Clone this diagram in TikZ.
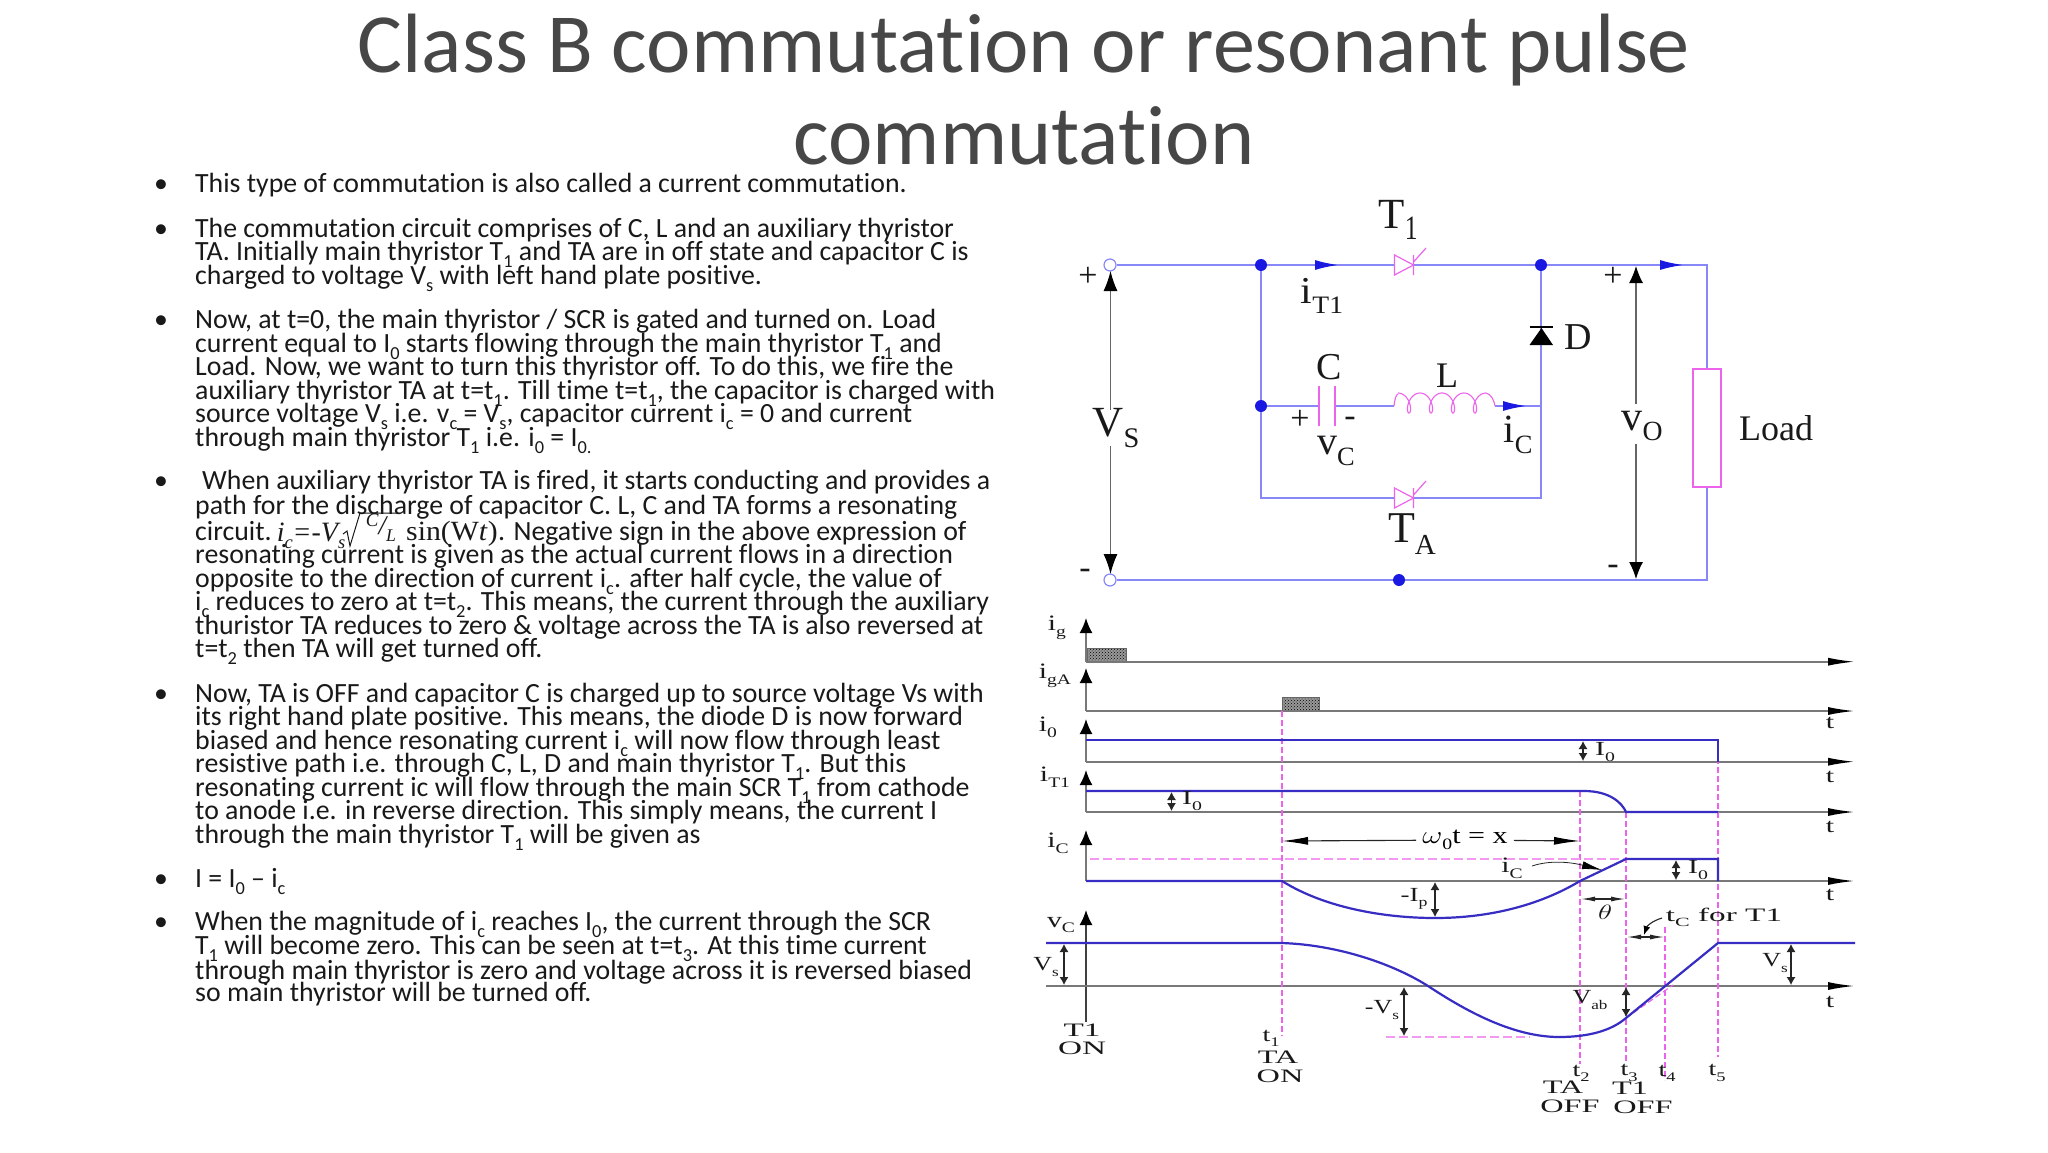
\documentclass[tikz,border=0pt]{standalone}
\usepackage{fontspec}
\usepackage{graphicx}
\usetikzlibrary{arrows.meta,patterns}
\setmainfont{Carlito}[Ligatures=NoCommon]
\newfontfamily\tmr{Liberation Serif}
\definecolor{wire}{RGB}{135,135,248}
\definecolor{dotb}{RGB}{25,25,225}
\definecolor{wave}{RGB}{55,45,195}
\definecolor{axisg}{RGB}{120,120,120}
\definecolor{magn}{RGB}{235,100,235}
\definecolor{txtk}{RGB}{25,25,25}
\newcounter{nn}
\newcommand\sbb[1]{\raisebox{-0.26em}{\scalebox{0.66}{#1}}}
\newcommand\bl[3]{\stepcounter{nn}\node[bodytxt,name=b\arabic{nn}] at (#1,#2) {#3};}
\newcommand\bul[1]{\stepcounter{nn}\node[bodytxt,anchor=base,name=b\arabic{nn}] at (161,#1) {•};}
% label: x, y, size, x-stretch, text
\newcommand\lab[5]{\stepcounter{nn}\node[serifl,name=s\arabic{nn}] at (#1,#2) {\fontsize{#3}{#3}\selectfont\tmr\scalebox{#4}[1]{#5}};}
\newcommand\jdot[3]{\node[jdotst,name=#1] at (#2,#3) {};}
\newcommand\dimv[3]{\stepcounter{nn}\coordinate (dv\arabic{nn}a) at (#1,#2);\coordinate (dv\arabic{nn}b) at (#1,#3);\draw[dimst] (dv\arabic{nn}a) -- (dv\arabic{nn}b);}
\newcommand\dimh[3]{\stepcounter{nn}\coordinate (dh\arabic{nn}a) at (#2,#1);\coordinate (dh\arabic{nn}b) at (#3,#1);\draw[dimhst] (dh\arabic{nn}a) -- (dh\arabic{nn}b);}
\newcommand\axis[3]{\stepcounter{nn}\coordinate (ax\arabic{nn}o) at (1086,#1);\coordinate (ax\arabic{nn}t) at (1086,#2);\coordinate (ax\arabic{nn}e) at (1855,#1);
 \draw[axvst] (ax\arabic{nn}o) -- (ax\arabic{nn}t);\draw[axst] (ax\arabic{nn}o) -- (ax\arabic{nn}e);}
\newcommand\vdsh[3]{\stepcounter{nn}\coordinate (vd\arabic{nn}a) at (#1,#2);\coordinate (vd\arabic{nn}b) at (#1,#3);\draw[dashst] (vd\arabic{nn}a) -- (vd\arabic{nn}b);}
\newcommand\thy[2]{\draw[magn,line width=1.2pt,fill=white] (#1-9.5,#2-10) -- (#1+9.5,#2) -- (#1-9.5,#2+10) -- cycle;
 \draw[magn,line width=1.2pt] (#1+9.5,#2-10) -- (#1+9.5,#2+10) (#1+9.5,#2-3) -- (#1+22,#2-17);}
\tikzset{x=1pt,y=-1pt,
 bodytxt/.style={anchor=base west,inner sep=0pt,font=\fontsize{27.8}{27.8}\selectfont,text=txtk},
 titletxt/.style={anchor=base,inner sep=0pt,font=\fontsize{84.2}{84.2}\selectfont,text=black!72},
 serifl/.style={inner sep=0pt,text=txtk},
 jdotst/.style={circle,fill=dotb,minimum size=12pt,inner sep=0pt},
 termst/.style={circle,draw=wire,fill=white,line width=1.2pt,minimum size=12pt,inner sep=0pt},
 wirest/.style={wire,line width=2.3pt},
 wavest/.style={wave,line width=2.2pt},
 axst/.style={axisg,line width=1.8pt,-{Latex[length=27pt,width=8pt,black]}},
 axvst/.style={axisg,line width=1.8pt,-{Latex[length=15pt,width=13pt,black]}},
 dimst/.style={black!85,line width=1.1pt,{Latex[length=8pt,width=9pt]}-{Latex[length=8pt,width=9pt]}},
 dimhst/.style={black!85,line width=1.1pt,{Latex[length=14pt,width=5pt]}-{Latex[length=14pt,width=5pt]}},
 dashst/.style={magn,line width=1.1pt,dash pattern=on 6pt off 3pt},
 hdashst/.style={magn!65,line width=1.2pt,dash pattern=on 9pt off 4pt},
 wtip/.style={dotb,line width=2.3pt,-{Latex[length=24pt,width=10pt]}},
 pulsest/.style={preaction={fill=black!40},pattern=crosshatch dots,pattern color=black,draw=black!60,line width=0.5pt}}
\begin{document}
\begin{tikzpicture}
\useasboundingbox[fill=white] (0,0) rectangle (2048,1152);
% Title
\node[titletxt,name=title1] at (1024,72) {Class B commutation or resonant pulse};
\node[titletxt,name=title2] at (1024,164) {commutation};
% Body text
\bul{192.6}\bl{195}{192.6}{This type of commutation is also called a current commutation.}
\bul{237}\bl{195}{237}{The commutation circuit comprises of C, L and an auxiliary thyristor}
\bl{195}{260.5}{TA. Initially main thyristor T\sbb{1} and TA are in off state and capacitor C is}
\bl{195}{284}{charged to voltage V\sbb{s} with left hand plate positive.}
\bul{328.5}\bl{195}{328.5}{Now, at t=0, the main thyristor / SCR is gated and turned on. Load}
\bl{195}{352}{current equal to I\sbb{0} starts flowing through the main thyristor T\sbb{1} and}
\bl{195}{375.5}{Load. Now, we want to turn this thyristor off. To do this, we fire the}
\bl{195}{399}{auxiliary thyristor TA at t=t\sbb{1}. Till time t=t\sbb{1}, the capacitor is charged with}
\bl{195}{422.5}{source voltage V\sbb{s} i.e. v\sbb{c} = V\sbb{s}, capacitor current i\sbb{c} = 0 and current}
\bl{195}{446}{through main thyristor T\sbb{1} i.e. i\sbb{0} = I\sbb{0.}}
\bul{489}\bl{202}{489}{When auxiliary thyristor TA is fired, it starts conducting and provides a}
\bl{195}{514}{path for the discharge of capacitor C. L, C and TA forms a resonating}
\bl{195}{540}{circuit.}
\lab{311}{536}{28}{1}{\itshape i\sbb{c}=-V\sbb{s}}
\lab{381}{528}{27}{1}{\itshape \raisebox{0.3em}{\scalebox{0.7}{C}}/\sbb{L}}
\stepcounter{nn}\node[bodytxt,name=b\arabic{nn}] at (406,540) {\tmr\scalebox{1.07}[1]{sin(W\textit{t})}};
\bl{498}{540}{. Negative sign in the above expression of}
\coordinate (rad0) at (343,534);\coordinate (rad1) at (347,531);\coordinate (rad2) at (350,546);\coordinate (rad3) at (360,513);\coordinate (rad4) at (398,513);
\draw[txtk,line width=1pt] (rad0) -- (rad1) -- (rad2) -- (rad3) -- (rad4);
\bl{195}{563.5}{resonating current is given as the actual current flows in a direction}
\bl{195}{587}{opposite to the direction of current i\sbb{c}. after half cycle, the value of}
\bl{195}{610.5}{i\sbb{c} reduces to zero at t=t\sbb{2}. This means, the current through the auxiliary}
\bl{195}{634}{thuristor TA reduces to zero \& voltage across the TA is also reversed at}
\bl{195}{657.5}{t=t\sbb{2} then TA will get turned off.}
\bul{702}\bl{195}{702}{Now, TA is OFF and capacitor C is charged up to source voltage Vs with}
\bl{195}{725.5}{its right hand plate positive. This means, the diode D is now forward}
\bl{195}{749}{biased and hence resonating current i\sbb{c} will now flow through least}
\bl{195}{772.5}{resistive path i.e. through C, L, D and main thyristor T\sbb{1}. But this}
\bl{195}{796}{resonating current ic will flow through the main SCR T\sbb{1} from cathode}
\bl{195}{819.5}{to anode i.e. in reverse direction. This simply means, the current I}
\bl{195}{843}{through the main thyristor T\sbb{1} will be given as}
\bul{887.5}\bl{195}{887.5}{I = I\sbb{0} – i\sbb{c}}
\bul{930.5}\bl{195}{930.5}{When the magnitude of i\sbb{c} reaches I\sbb{0}, the current through the SCR}
\bl{195}{954}{T\sbb{1} will become zero. This can be seen at t=t\sbb{3}. At this time current}
\bl{195}{979}{through main thyristor is zero and voltage across it is reversed biased}
\bl{195}{1001}{so main thyristor will be turned off.}
% ---------- Circuit ----------
\node[termst,name=ttop] at (1110,265) {};
\node[termst,name=tbot] at (1110,580) {};
\jdot{ja}{1261}{265}\jdot{jb}{1541}{265}\jdot{jc}{1261}{406}\jdot{jd}{1399}{580}
\coordinate (rtop) at (1707,265);\coordinate (rbot) at (1707,580);
\coordinate (ltop) at (1707,369);\coordinate (lbot) at (1707,487);
\coordinate (lr) at (1541,498);\coordinate (ll) at (1261,498);\coordinate (jm) at (1541,406);
\coordinate (cl) at (1319,406);\coordinate (cr) at (1335,406);\coordinate (il) at (1394,406);\coordinate (ir) at (1495,406);
\draw[wirest] (ttop) -- (ja) -- (jb) -- (rtop) -- (ltop);
\draw[wirest] (lbot) -- (rbot) -- (jd) -- (tbot);
\draw[wirest] (ja) -- (jc) -- (ll) -- (lr) -- (jm) -- (jb);
\draw[wirest] (jc) -- (cl) (cr) -- (il) (ir) -- (jm);
\node[draw=magn,fill=white,line width=1.2pt,minimum width=28pt,minimum height=118pt,inner sep=0pt,name=load] at (1707,428) {};
\thy{1404}{265}\thy{1404}{498}
\draw[magn,line width=1.2pt] (1319,386) -- (1319,426) (1335,386) -- (1335,426);
\draw[magn,line width=1.1pt] (il) .. controls (1395,398) and (1396,395) .. (1398,394);
\draw[magn,line width=1.1pt] plot[domain=0:1440,samples=160] ({1398+0.0611*\x+6*sin(\x)},{403-10*cos(\x)});
\draw[magn,line width=1.1pt] (1486,393) .. controls (1491,394) and (1494,400) .. (ir);
% blue arrows on wires
\coordinate (wa1) at (1315,265);\coordinate (wa2) at (1339,265);\draw[wtip] (wa1) -- (wa2);
\coordinate (wb1) at (1660,265);\coordinate (wb2) at (1684,265);\draw[wtip] (wb1) -- (wb2);
\coordinate (wc1) at (1503,406);\coordinate (wc2) at (1527,406);\draw[wtip] (wc1) -- (wc2);
% diode
\fill[black] (1529.5,345) -- (1553,345) -- (1541.5,328) -- cycle;
\draw[black,line width=1.2pt] (1529.5,327) -- (1553,327);
% voltage arrows
\coordinate (vsa) at (1110.5,271);\coordinate (vsb) at (1110.5,574);\coordinate (voa) at (1636,266);\coordinate (vob) at (1636,579);
\draw[black!60,line width=1.2pt,{Latex[length=20pt,width=14pt,black]}-{Latex[length=20pt,width=14pt,black]}] (vsa) -- (vsb);
\draw[black!60,line width=1.2pt,{Latex[length=17pt,width=14pt,black]}-{Latex[length=17pt,width=14pt,black]}] (voa) -- (vob);
\node[fill=white,inner sep=0pt,minimum width=34pt,minimum height=36pt,name=vsgap] at (1116,428) {};
\node[fill=white,inner sep=0pt,minimum width=40pt,minimum height=40pt,name=vogap] at (1642,424) {};
% circuit labels
\lab{1398}{220}{43}{1}{T\sbb{\scalebox{0.9}[1.2]{1}}}
\lab{1322}{296}{38}{1.1}{i\sbb{T1}}
\lab{1578}{337}{38}{1}{D}
\lab{1329}{367}{38}{1}{C}
\lab{1447}{376}{36}{1}{L}
\lab{1300}{420}{34}{1}{+}
\lab{1350}{422}{34}{1}{-}
\lab{1336}{451}{40}{1}{v\sbb{C}}
\lab{1518}{435}{40}{1}{i\sbb{C}}
\lab{1412}{534}{44}{1}{T\sbb{A}}
\lab{1116}{428}{43}{1}{V\sbb{S}}
\lab{1642}{426}{42}{1}{v\sbb{O}}
\lab{1776}{428}{36}{1}{Load}
\lab{1088}{277}{34}{1}{+}
\lab{1085}{574}{34}{1}{-}
\lab{1613}{277}{34}{1}{+}
\lab{1613}{570}{34}{1}{-}
% ---------- Timing ----------
\draw[pulsest] (1087,648) rectangle (1126,661);
\draw[pulsest] (1282,697) rectangle (1319,711);
\axis{661.7}{618}{}\axis{711}{668}{}\axis{761.7}{719}{}\axis{812}{770}{}\axis{881}{830}{}
% vc axes
\coordinate (vco) at (1086,1022);\coordinate (vct) at (1086,910);\draw[black!75,line width=1.6pt,-{Latex[length=15pt,width=13pt,black]}] (vco) -- (vct);
\coordinate (vhl) at (1046,986);\coordinate (vhr) at (1855,986);\draw[axst] (vhl) -- (vhr);
% dashed
\vdsh{1282}{711}{1036}\vdsh{1580}{791}{1064}\vdsh{1626}{812}{1064}\vdsh{1665}{927}{1080}\vdsh{1718}{740}{1057}
\coordinate (hd1) at (1090,859);\coordinate (hd2) at (1626,859);\draw[hdashst] (hd1) -- (hd2);
\coordinate (hd3) at (1386,1037);\coordinate (hd4) at (1530,1037);\draw[hdashst] (hd3) -- (hd4);
\coordinate (hd5) at (1626,1018);\coordinate (hd6) at (1673,985);\draw[dashst] (hd5) -- (hd6);
% waves
\coordinate (w1a) at (1086,740);\coordinate (w1b) at (1718,740);\coordinate (w1c) at (1718,762);
\draw[wavest] (w1a) -- (w1b) -- (w1c);
\coordinate (w2a) at (1086,791);\coordinate (w2b) at (1584,791);\coordinate (w2c) at (1626,812);\coordinate (w2d) at (1718,812);
\draw[wavest] (w2a) -- (w2b) .. controls (1610,791) and (1622,803) .. (w2c) -- (w2d);
\coordinate (w3a) at (1086,881);\coordinate (w3b) at (1282,881);\coordinate (w3c) at (1435,918);\coordinate (w3d) at (1580,881);\coordinate (w3e) at (1626,859);\coordinate (w3f) at (1718,859);\coordinate (w3g) at (1718,881);
\draw[wavest] (w3a) -- (w3b) .. controls (1325,908) and (1385,918) .. (w3c) .. controls (1490,918) and (1540,905) .. (w3d) -- (w3e) -- (w3f) -- (w3g);
\coordinate (w4a) at (1046,943);\coordinate (w4b) at (1282,943);\coordinate (w4c) at (1428,986);\coordinate (w4d) at (1559,1037);\coordinate (w4e) at (1626,1018);\coordinate (w4f) at (1718,943);\coordinate (w4g) at (1855,943);
\draw[wavest] (w4a) -- (w4b) .. controls (1340,945) and (1395,965) .. (w4c) .. controls (1460,1007) and (1510,1037) .. (w4d) .. controls (1590,1037) and (1612,1030) .. (w4e) -- (w4f) -- (w4g);
% dim arrows
\dimv{1583}{741}{761}\dimv{1171.5}{792}{811}\dimv{1676}{860}{880}
\dimv{1435}{882}{917}\dimv{1064}{944}{985}\dimv{1791}{944}{985}\dimv{1404}{987}{1036}
\coordinate (vab1) at (1626,987);\coordinate (vab2) at (1626,1017);\draw[dimst] (vab1) -- (vab2);
\dimh{899}{1581}{1625}\dimh{937}{1627}{1664}
% omega arrows
\coordinate (om1) at (1282,841);\coordinate (om2) at (1580,841);
\node[fill=white,inner sep=6pt,name=omlab] at (1465,840) {\fontsize{24}{24}\selectfont\tmr\scalebox{1.25}[1]{$\omega$\sbb{0}t = x}};
\draw[black!85,line width=1.1pt,-{Latex[length=26pt,width=8pt,black]}] (omlab) -- (om1);
\draw[black!85,line width=1.1pt,-{Latex[length=26pt,width=8pt,black]}] (omlab) -- (om2);
% ic curved
\coordinate (ic1) at (1532,866);\coordinate (ic2) at (1602,870);
\draw[black!85,line width=0.8pt,-{Latex[length=20pt,width=8pt,black]}] (ic1) .. controls (1550,860) and (1570,862) .. (ic2);
\coordinate (tc1) at (1662,918);\coordinate (tc2) at (1644,935);
\draw[black!85,line width=1.1pt,-{Latex[length=9pt,width=7pt,black]}] (tc1) .. controls (1652,921) and (1647,926) .. (tc2);
% timing labels
\lab{1057}{628}{22}{1.35}{i\sbb{g}}
\lab{1055}{676}{22}{1.35}{i\sbb{gA}}
\lab{1048}{727}{22}{1.35}{i\sbb{0}}
\lab{1055}{777}{22}{1.35}{i\sbb{T1}}
\lab{1058}{843}{22}{1.35}{i\sbb{C}}
\lab{1061}{925}{22}{1.35}{v\sbb{C}}
\lab{1830}{723}{20}{1.5}{t}\lab{1830}{777}{20}{1.5}{t}\lab{1830}{827}{20}{1.5}{t}\lab{1830}{895}{20}{1.5}{t}\lab{1830}{1002}{20}{1.5}{t}
\lab{1605}{752}{20}{1.5}{I\sbb{0}}
\lab{1192}{801}{20}{1.5}{I\sbb{0}}
\lab{1698}{870}{20}{1.5}{I\sbb{0}}
\lab{1512}{868}{22}{1.35}{i\sbb{C}}
\lab{1414}{899}{20}{1.35}{-I\sbb{p}}
\lab{1605}{912}{21}{1.4}{$\theta$}
\lab{1724}{917}{19}{1.75}{t\sbb{C} for T1}
\lab{1046}{967}{20}{1.3}{V\sbb{s}}
\lab{1775}{963}{20}{1.3}{V\sbb{s}}
\lab{1382}{1010}{20}{1.3}{-V\sbb{s}}
\lab{1590}{1000}{20}{1.3}{V\sbb{ab}}
\lab{1082}{1030}{19}{1.75}{T1}
\lab{1082}{1048}{19}{1.75}{ON}
\lab{1271}{1038}{20}{1.4}{t\sbb{1}}
\lab{1278}{1057}{19}{1.7}{TA}
\lab{1280}{1076}{19}{1.7}{ON}
\lab{1581}{1073}{20}{1.4}{t\sbb{2}}
\lab{1629}{1073}{20}{1.4}{t\sbb{3}}
\lab{1667}{1073}{20}{1.4}{t\sbb{4}}
\lab{1717}{1073}{20}{1.4}{t\sbb{5}}
\lab{1563}{1087}{19}{1.7}{TA}
\lab{1570}{1106}{19}{1.7}{OFF}
\lab{1630}{1088}{19}{1.7}{T1}
\lab{1643}{1107}{19}{1.7}{OFF}
\end{tikzpicture}
\end{document}
